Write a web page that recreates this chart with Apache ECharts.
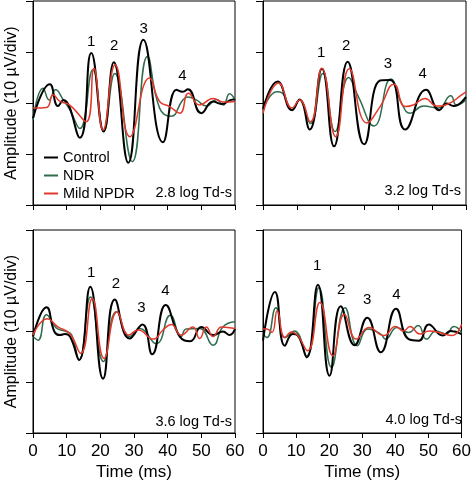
<!DOCTYPE html>
<html>
<head>
<meta charset="utf-8">
<script src="https://cdn.jsdelivr.net/npm/echarts@6/dist/echarts.min.js"></script>
<style>
  html, body { margin: 0; padding: 0; background: #fff; }
  #main { width: 474px; height: 484px; }
</style>
</head>
<body>
<div id="main"></div>
<script>
// [time (ms), amplitude (µV)]
const ctl28 = [[0,-3],[5,3.7],[7.4,-0.6],[9,0.6],[13.9,-6.8],[17.3,9.8],[21,-5.6],[24,8],[28.3,-11.7],[32.8,12.4],[38.6,-7.7],[42.6,2.6],[44.5,2.2],[46,2.7],[50,-2],[53.5,0.3],[56,-0.2],[59.4,0.7],[60,0.6]]
const ndr28 = [[0,-3.3],[3,2.9],[4.8,0.6],[6.7,2.6],[9,0.6],[11,-1.4],[13.9,-5],[17.8,6.5],[21,-5.6],[24.3,5.8],[29.5,-11.5],[34,9.1],[37.6,-1],[41,-2.6],[44.5,0.6],[46,1.2],[48.5,0.6],[51.5,-0.6],[54.5,0.7],[56.5,-0.4],[58.4,1.8],[60,0.6]]
const npdr28 = [[0,-1],[4,-0.9],[6,1.6],[8,0.3],[10.9,-0.4],[15.8,-3.7],[18.1,6.8],[20.8,-5.3],[24.4,7.5],[28.8,-6.6],[34.6,4.9],[37.6,0.3],[40.6,-0.7],[43.6,-2],[46.2,1.9],[49.5,-0.4],[53.5,0.9],[56.5,0.2],[60,0.3]]

const ctl32 = [[0,-1.2],[4.3,4.2],[8.6,-1.4],[10.8,0.7],[13.8,-5.2],[17.4,6.7],[21,-8.5],[25,8.1],[29.9,-8.1],[34.6,4.4],[37.6,4.5],[42,-5.2],[48.2,2.6],[52.1,-1.4],[54.3,-0.1],[56.3,-0.6],[60,1.2]]
const ndr32 = [[0,-1.4],[4.1,2.2],[5.6,2],[8.6,-1.4],[10.8,0.6],[14,-4],[17.7,5.8],[21.3,-5.6],[25.3,5],[28.2,1.2],[32.8,-4.5],[37.8,4.7],[41,-0.1],[43.5,-2],[47.4,-0.6],[51.8,-1],[55.5,1.4],[57.2,-0.4],[60,0.6]]
const npdr32 = [[0,-2],[4.6,3.9],[8.6,-1],[10.8,0.6],[14,-3.7],[17.4,6.8],[21.5,-6.6],[25.5,6.7],[30.7,-3.9],[34.6,-0.7],[38.7,3.7],[42,-0.7],[44.4,-0.4],[47.9,0.9],[51.3,-0.6],[55,-0.1],[58.7,1.6],[60,2.2]]

const ctl36 = [[0,-1],[4,4.8],[6.4,-0.1],[8,-0.7],[9.5,-0.5],[11,-1],[13.7,-5.6],[17,8.8],[20.8,-9.3],[24.3,6.3],[28.7,-1.4],[32.5,1.4],[35.4,-4.5],[39.4,5.2],[43.6,-1],[46.7,-1.9],[50,0.9],[53.5,-0.7],[56.4,0],[58.4,-0.7],[60,0.5]]
const ndr36 = [[0,-1],[1.5,-1.7],[4,3.3],[6.9,0.7],[9.9,0],[11.5,-0.7],[13.7,-5.6],[17.1,6.8],[20.9,-5.9],[24.8,3.9],[28.7,-1],[31.7,0.6],[36.6,-2.4],[40.8,3.2],[44,-1],[45.5,0.5],[49.5,0.6],[53.5,-2.7],[56.4,0.9],[60,1.9]]
const npdr36 = [[0,-0.7],[4.3,2.5],[7.4,0.9],[10.9,-0.4],[14.2,-4.3],[17.6,6.5],[21.1,-5.3],[25,3.9],[28.5,-0.7],[31.2,0.3],[35.8,-1.5],[38.6,0.3],[41.1,1.4],[44,-0.7],[47.5,0.9],[49.5,-1.4],[51.5,0.9],[53.5,-1],[56,0.9],[60,0.6]]

const ctl40 = [[0,-1.8],[3.6,7.8],[6.6,-2.8],[9,-0.5],[10.5,-0.8],[13.2,-5.1],[16.6,9.2],[20.1,-8.7],[23.5,5],[27.7,-2.7],[31.5,2.7],[35.6,-4.1],[40.2,4.5],[44,-1.5],[47.1,-1.8],[50.1,1.4],[54.3,-0.8],[56.7,0.1],[60,-0.5]]
const ndr40 = [[0,-0.5],[1.2,-1.2],[3.9,4.7],[6.6,-1.2],[9.5,0.1],[13.2,-4.8],[16.9,8.6],[20.7,-7.1],[24.8,4.7],[28.5,-2.8],[31.7,0.5],[35.6,-0.5],[37,-1.5],[40.5,0.8],[44,-0.2],[46.9,1.2],[49.4,-1.5],[52.3,0.1],[55.3,-0.5],[57.7,1],[60,-0.2]]
const npdr40 = [[0,0.5],[1.2,0.5],[2.7,-0.2],[4.3,4.1],[6.6,-1.2],[8.6,-0.1],[10.5,-0.8],[13.5,-3.8],[17.2,5.7],[21.1,-4.8],[24.6,3.4],[28.2,-1.5],[32,0.8],[36.6,-0.8],[40,1],[42.5,0.1],[44.4,1],[47.4,-0.5],[50.3,0.1],[53.3,-0.2],[57.2,-0.8],[60,1.4]]

// peak numbers: [time, amplitude] where each number sits
const peaks28 = [[17.3,11.9],[24.1,11.2],[32.9,14.5],[44.4,5.3]]
const peaks32 = [[17.2,9.9],[24.6,11.2],[36.9,7.7],[47.2,5.8]]
const peaks36 = [[17.3,11.6],[24.6,9.3],[32.2,4.7],[39.3,8.0]]
const peaks40 = [[16.4,12.9],[23.6,8.3],[31.5,6.2],[40.3,7.3]]

const flashes = ['2.8 log Td-s', '3.2 log Td-s', '3.6 log Td-s', '4.0 log Td-s']
const xTicks = [0, 10, 20, 30, 40, 50, 60]

const FONT = 'Liberation Sans, Arial, sans-serif'
const COLORS = { Control: '#000000', NDR: '#2f6d4d', 'Mild NPDR': '#e2392c' }

const grids = [
  { left: 33, top: 1, width: 202, height: 204 },
  { left: 263, top: 1, width: 203, height: 204 },
  { left: 33, top: 230, width: 202, height: 203 },
  { left: 263, top: 230, width: 203, height: 203 }
].map((g) => ({ ...g, show: true, borderColor: '#000', borderWidth: 1 }))

const panels = [
  [ctl28, ndr28, npdr28, peaks28],
  [ctl32, ndr32, npdr32, peaks32],
  [ctl36, ndr36, npdr36, peaks36],
  [ctl40, ndr40, npdr40, peaks40]
]

const xAxis = grids.map((g, i) => ({
  type: 'value',
  gridIndex: i,
  min: 0,
  max: 60,
  interval: 10,
  axisLine: { onZero: false, lineStyle: { color: '#000', width: 1 } },
  axisTick: { length: 5, lineStyle: { color: '#000' } },
  splitLine: { show: false },
  axisLabel: {
    show: i >= 2,
    color: '#000',
    fontSize: 17,
    fontFamily: FONT,
    margin: 10,
    formatter: (v) => (xTicks.includes(v) ? String(v) : '')
  },
  name: i >= 2 ? 'Time (ms)' : '',
  nameLocation: 'middle',
  nameGap: 31,
  nameTextStyle: { color: '#000', fontSize: 17, fontFamily: FONT }
}))

const yAxis = grids.map((g, i) => ({
  type: 'value',
  gridIndex: i,
  min: -20,
  max: 20,
  interval: 10,
  axisLine: { onZero: false, lineStyle: { color: '#000', width: 1 } },
  axisTick: { length: 7, lineStyle: { color: '#000' } },
  splitLine: { show: false },
  axisLabel: { show: false },
  name: i % 2 === 0 ? 'Amplitude (10 \u00b5V/div)' : '',
  nameLocation: 'middle',
  nameGap: 13,
  nameTextStyle: { color: '#000', fontSize: 16, fontFamily: FONT }
}))

const series = []
panels.forEach(([ctl, ndr, npdr, peaks], i) => {
  const mk = (name, data, width, z) => ({
    name,
    type: 'line',
    xAxisIndex: i,
    yAxisIndex: i,
    data,
    smooth: 0.5,
    showSymbol: false,
    z,
    lineStyle: { color: COLORS[name], width },
    itemStyle: { color: COLORS[name] }
  })
  const c = mk('Control', ctl, 2, 3)
  c.markPoint = {
    symbol: 'circle',
    symbolSize: 0,
    silent: true,
    label: {
      show: true,
      position: 'inside',
      color: '#000',
      fontSize: 15,
      fontFamily: FONT,
      formatter: (p) => p.name
    },
    data: peaks.map((p, k) => ({ name: String(k + 1), coord: p }))
  }
  series.push(c, mk('NDR', ndr, 1.5, 2), mk('Mild NPDR', npdr, 1.5, 4))
})

const textPos = [[232, 193], [461, 191], [232, 422], [462, 420]]
const graphic = flashes.map((t, i) => ({
  type: 'text',
  x: textPos[i][0],
  y: textPos[i][1],
  style: {
    text: t,
    fill: '#000',
    font: '14.5px ' + FONT,
    textAlign: 'right',
    textVerticalAlign: 'middle'
  }
}))

const chart = echarts.init(document.getElementById('main'))
chart.setOption({
  animation: false,
  backgroundColor: '#fff',
  grid: grids,
  xAxis,
  yAxis,
  series,
  graphic,
  legend: {
    data: ['Control', 'NDR', 'Mild NPDR'],
    orient: 'vertical',
    left: 44,
    top: 150,
    padding: 0,
    itemGap: 3,
    icon: 'rect',
    itemWidth: 14,
    itemHeight: 2,
    textStyle: { color: '#000', fontSize: 14.5, fontFamily: FONT, lineHeight: 15 }
  }
})
</script>
</body>
</html>
